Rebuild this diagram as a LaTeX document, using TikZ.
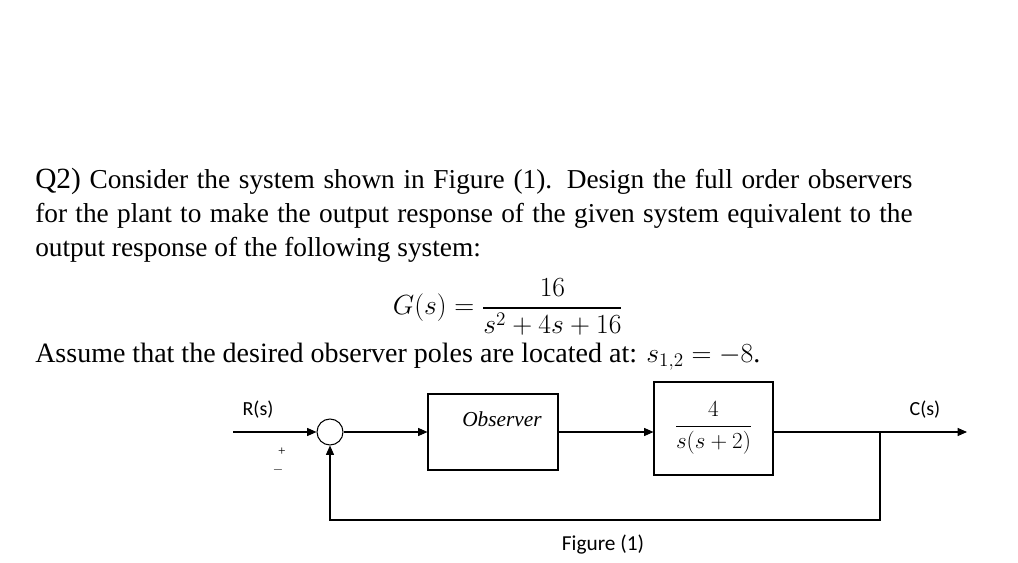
\documentclass[tikz,border=0pt]{standalone}
\usepackage{fontspec}
\usepackage{amsmath}
\setmainfont{Liberation Serif}
\newfontfamily\calfont{Carlito}
\usetikzlibrary{arrows.meta}
\tikzset{
  blk/.style={draw, line width=0.8pt, inner sep=0pt},
  sig/.style={line width=0.8pt, -{Triangle[length=7pt,width=6pt]}},
  lbl/.style={font=\calfont\fontsize{15}{18}\selectfont}
}
\begin{document}
\begin{tikzpicture}[x=0.75pt,y=-0.75pt]
\useasboundingbox (0,0) rectangle (1018,563);
\node[anchor=north west, text width=658pt, align=justify, inner sep=0pt, font=\fontsize{20.5}{25.5}\selectfont] (para) at (35,168)
 {{\fontsize{22}{25}\selectfont Q2)} Consider the system shown in Figure (1). Design the full order observers for the plant to make the output response of the given system equivalent to the output response of the following system:};
\node[font=\fontsize{20}{24}\selectfont] (eq) at (508,307) {$G(s)=\dfrac{16}{s^2+4s+16}$};
\node[anchor=west, inner sep=0pt, font=\fontsize{21}{24}\selectfont] (assume) at (35,357) {Assume that the desired observer poles are located at: $s_{1,2}=-8$.};
\node[circle, draw, line width=0.8pt, minimum size=26pt*0.75, inner sep=0pt] (sum) at (330,432) {};
\node[blk, minimum width=130*0.75pt, minimum height=76*0.75pt] (obs) at (493,432) {};
\node[font=\fontsize{16}{18}\selectfont\itshape] (obst) at (502,419) {Observer};
\node[blk, minimum width=119*0.75pt, minimum height=93*0.75pt] (plant) at (713.5,428.5) {};
\node[font=\fontsize{17}{20}\selectfont] (pt) at (713.5,428) {$\dfrac{4}{s(s+2)}$};
\coordinate (in) at (233,432);
\coordinate (out) at (967,432);
\coordinate (tap) at (880,432);
\node[lbl] (R) at (258,410) {R(s)};
\node[lbl] (C) at (925,410) {C(s)};
\node[font=\fontsize{10}{12}\selectfont] (plus) at (282,452) {+};
\node[font=\fontsize{10}{12}\selectfont] (minus) at (278,470) {$-$};
\draw[sig] (in) -- (sum.west);
\draw[sig] (sum.east) -- (obs.west);
\draw[sig] (obs.east) -- (obs.east -| plant.west);
\draw[sig] (obs.east -| plant.east) -- (out);
\draw[sig] (tap) -- (880,520) -- (330,520) -- (sum.south);
\node[font=\calfont\fontsize{16}{18}\selectfont] (fig) at (603,545) {Figure (1)};
\end{tikzpicture}
\end{document}
